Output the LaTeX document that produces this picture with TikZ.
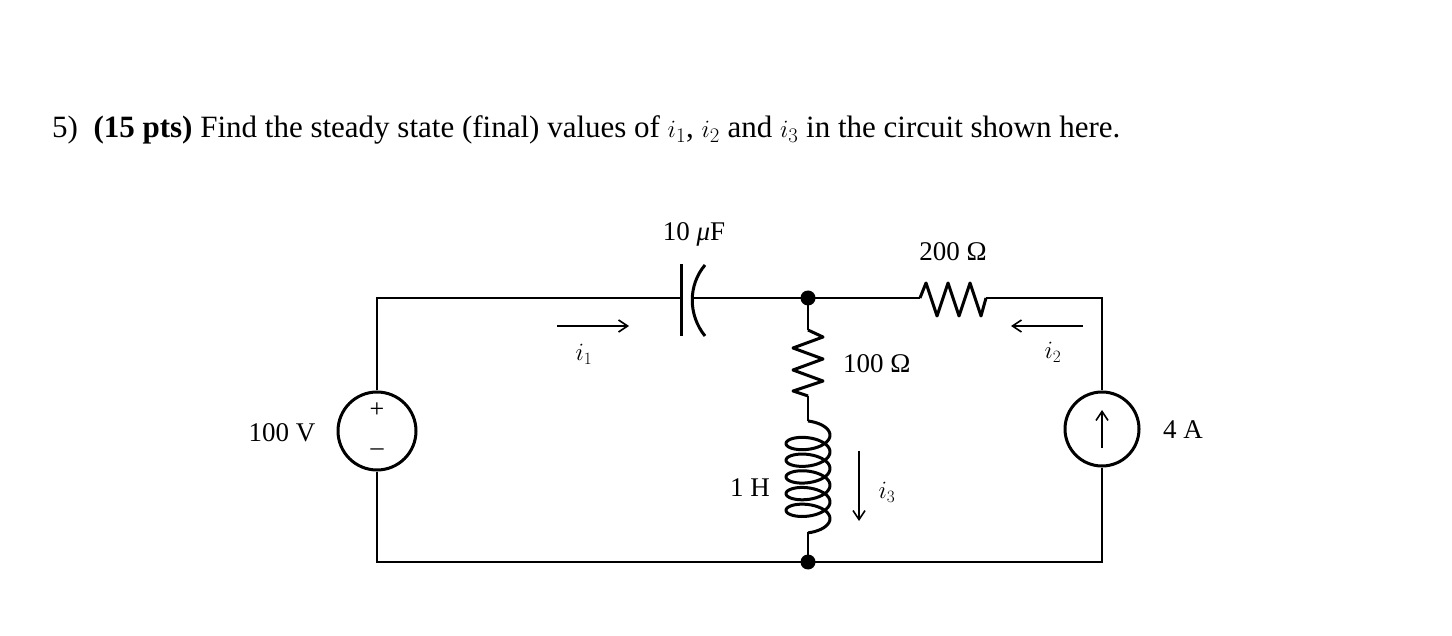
\documentclass[tikz,border=0pt]{standalone}
\usepackage{fontspec}
\setmainfont{Liberation Serif}
\usetikzlibrary{arrows.meta}
\begin{document}
\begin{tikzpicture}[x=1pt,y=-1pt,
  wire/.style={line width=1.8pt},
  comp/.style={line width=3pt,line join=round},
  lbl/.style={font=\fontsize{27}{30}\selectfont,inner sep=0pt},
  cur/.style={line width=1.6pt,-{Straight Barb[length=9pt,width=12pt]}}]
\useasboundingbox (0,0) rectangle (1452,636);
\node[font=\fontsize{31}{34}\selectfont,anchor=west,inner sep=0pt] (title) at (52,130)
 {5)\enspace \textbf{(15 pts)} Find the steady state (final) values of $i_1$, $i_2$ and $i_3$ in the circuit shown here.};
% coordinates
\coordinate (tl) at (377,298); \coordinate (bl) at (377,562);
\coordinate (tr) at (1102,298); \coordinate (br) at (1102,562);
\coordinate (nt) at (808,298); \coordinate (nb) at (808,562);
% voltage source
\node[draw,circle,line width=3pt,minimum size=78pt,inner sep=0pt] (vs) at (377,431) {};
\node[font=\fontsize{26}{26}\selectfont,inner sep=0pt] (plus) at (377,410) {+};
\node[font=\fontsize{26}{26}\selectfont,inner sep=0pt] (minus) at (377,452) {\textendash};
\node[lbl] (vlab) at (282,433) {100 V};
% current source
\node[draw,circle,line width=3pt,minimum size=74pt,inner sep=0pt] (cs) at (1102,429) {};
\draw[cur] (1102,448) -- (1102,410);
\node[lbl] (clab) at (1183,430) {4 A};
% wires
\draw[wire] (vs.north) -- (tl) -- (681,298);
\draw[wire] (vs.south) -- (bl) -- (br) -- (cs.south);
\draw[wire] (cs.north) -- (tr) -- (986,298);
\draw[wire] (693,298) -- (nt) -- (920,298);
% capacitor
\draw[comp] (681,264) -- (681,336);
\draw[comp] (705,265) .. controls (688,285) and (688,315) .. (705,336);
\node[lbl] (clab2) at (694,234) {10 {\itshape μ}F};
% 200 ohm
\draw[comp] (920,298) -- (926,283) -- (937,316) -- (948,283) -- (959,316) -- (970,283) -- (981,316) -- (986,298);
\node[lbl] (r2lab) at (953,252) {200 Ω};
% 100 ohm vertical
\draw[wire] (nt) -- (808,330);
\draw[comp] (808,330) -- (823,337) -- (793,348) -- (823,359) -- (793,370) -- (823,381) -- (793,391) -- (808,396);
\draw[wire] (808,396) -- (808,421);
\node[lbl,anchor=west] (r1lab) at (843,364) {100 Ω};
% inductor
\draw[comp,smooth,samples=220,domain=0:1980,variable=\t]
  plot ({808+22*sin(\t)},{421+0.04639*\t+10*(1-cos(\t))});
\draw[wire] (808,532) -- (nb);
\node[lbl] (llab) at (750,488) {1 H};
% dots
\fill (nt) circle (7.5pt);
\fill (nb) circle (7.5pt);
% current arrows
\draw[cur] (557,326) -- (629,326);
\node[font=\fontsize{27}{30}\selectfont,inner sep=0pt] (i1) at (584,354) {$i_1$};
\draw[cur] (1083,326) -- (1011,326);
\node[font=\fontsize{27}{30}\selectfont,inner sep=0pt] (i2) at (1053,352) {$i_2$};
\draw[cur] (859,451) -- (859,521);
\node[font=\fontsize{27}{30}\selectfont,inner sep=0pt] (i3) at (887,492) {$i_3$};
\end{tikzpicture}
\end{document}
